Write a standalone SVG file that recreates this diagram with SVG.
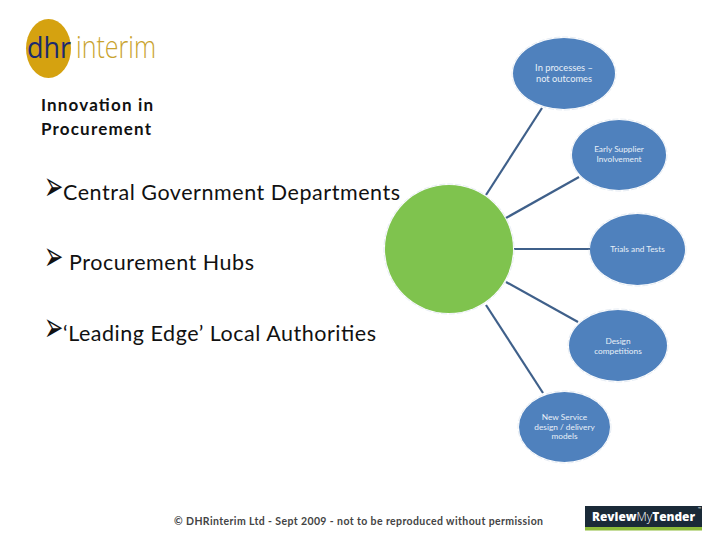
<svg xmlns="http://www.w3.org/2000/svg" width="728" height="546" viewBox="0 0 728 546">
<style>
.t{font-family:Lato,"Open Sans","Liberation Sans",sans-serif;fill:#111}
.b{font-size:21.5px}
.h{font-size:17px;font-weight:700}
.a{font-family:"DejaVu Sans",sans-serif;font-size:20px;fill:#111}
.n{fill:#4f81bd}
.o{fill:none;stroke:#dfe7f0;stroke-width:.8;stroke-dasharray:6 2}
.l{font-family:Lato,"Open Sans","Liberation Sans",sans-serif;font-size:8.3px;fill:#e8f0f8;text-anchor:middle}
.c{stroke:#3f608a;stroke-width:2.2;fill:none}
.r{font-family:"Open Sans","Liberation Sans",sans-serif;font-size:13px;fill:#fff}
</style>
<rect width="728" height="546" fill="#fff"/>
<g id="logo-dhr">
<ellipse cx="48.5" cy="48.5" rx="22.5" ry="29.5" fill="#d5a210"/>
<text x="27" y="58" font-family="'Open Sans','Liberation Sans',sans-serif" font-size="30" fill="#1c2a6e" textLength="44" lengthAdjust="spacingAndGlyphs">dhr</text>
<text x="76" y="58" font-family="'Open Sans','Liberation Sans',sans-serif" font-size="31" font-weight="300" fill="#c9a32e" textLength="80" lengthAdjust="spacingAndGlyphs">interim</text>
</g>
<g id="title"><text class="t h" x="41" y="111" textLength="112">Innovation in</text><text class="t h" x="41" y="135" textLength="110">Procurement</text></g>
<g id="bullets">
<text class="a" transform="translate(44 200) scale(1.15 2.05)">➢</text><text class="t b" x="63" y="200" textLength="337">Central Government Departments</text>
<text class="a" transform="translate(44 270) scale(1.15 2.05)">➢</text><text class="t b" x="69" y="270" textLength="185">Procurement Hubs</text>
<text class="a" transform="translate(44 341) scale(1.15 2.05)">➢</text><text class="t b" x="63" y="341" textLength="313">‘Leading Edge’ Local Authorities</text>
</g>
<g id="connectors">
<line class="c" x1="486" y1="195" x2="542" y2="108"/>
<line class="c" x1="506" y1="218" x2="579" y2="177"/>
<line class="c" x1="514" y1="249" x2="590" y2="249"/>
<line class="c" x1="506" y1="282" x2="578" y2="322"/>
<line class="c" x1="486" y1="305" x2="543" y2="393"/>
</g>
<g id="hub"><circle cx="449" cy="249" r="64" fill="#7fc34e"/><circle class="o" cx="449" cy="249" r="65"/></g>
<g id="node-1"><ellipse class="o" cx="564" cy="73.5" rx="52" ry="36.5"/><ellipse class="n" cx="564" cy="73.5" rx="51" ry="35.5"/><text class="l" style="font-size:9.3px" x="564" y="71">In processes –</text><text class="l" style="font-size:9.3px" x="564" y="82">not outcomes</text></g>
<g id="node-2"><ellipse class="o" cx="619" cy="155" rx="48" ry="36"/><ellipse class="n" cx="619" cy="155" rx="47" ry="35"/><text class="l" x="619" y="152">Early Supplier</text><text class="l" x="619" y="162">Involvement</text></g>
<g id="node-3"><ellipse class="o" cx="637.5" cy="249.5" rx="48.5" ry="36.5"/><ellipse class="n" cx="637.5" cy="249.5" rx="47.5" ry="35.5"/><text class="l" x="637.5" y="252">Trials and Tests</text></g>
<g id="node-4"><ellipse class="o" cx="618" cy="345.5" rx="50" ry="36.5"/><ellipse class="n" cx="618" cy="345.5" rx="49" ry="35.5"/><text class="l" x="618" y="344">Design</text><text class="l" x="618" y="354">competitions</text></g>
<g id="node-5"><ellipse class="o" cx="564.5" cy="427" rx="46.5" ry="36"/><ellipse class="n" cx="564.5" cy="427" rx="45.5" ry="35"/><text class="l" x="564.5" y="420">New Service</text><text class="l" x="564.5" y="429.5">design / delivery</text><text class="l" x="564.5" y="439">models</text></g>
<g id="footer"><text x="174" y="525" font-family="Lato,'Open Sans',sans-serif" font-size="10.5" font-weight="700" fill="#444" textLength="369">© DHRinterim Ltd - Sept 2009 - not to be reproduced without permission</text></g>
<g id="logo-rmt">
<rect x="585" y="506" width="117" height="21" fill="#1a2a38"/>
<rect x="585" y="527" width="117" height="3.5" fill="#8dbb3a"/>
<text class="r" x="592" y="521" font-weight="800" textLength="103" lengthAdjust="spacingAndGlyphs">Review<tspan font-weight="300">My</tspan>Tender</text>
<text class="r" x="698" y="510" style="font-size:4px">™</text>
</g>
</svg>
